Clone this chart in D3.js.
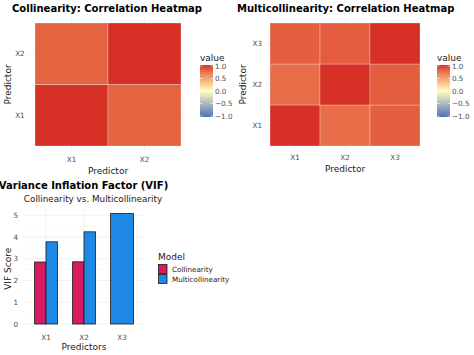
<!DOCTYPE html>
<html><head><meta charset="utf-8">
<script src="https://cdn.jsdelivr.net/npm/d3@7"></script>
<style>
body{margin:0;background:#fff;}
svg{display:block;font-family:"DejaVu Sans",sans-serif;}
</style></head>
<body>
<svg id="c" width="474" height="355"></svg>
<script>
// ---- data ----
const colPredictors = ["X1","X2"];
const colMatrix = [[1.0,0.80],[0.80,1.0]];
const multiPredictors = ["X1","X2","X3"];
const multiMatrix = [[1.0,0.75,0.82],[0.75,1.0,0.83],[0.82,0.83,1.0]];
const legendTicks = [1.0,0.5,0.0,-0.5,-1.0];
const vifPredictors = ["X1","X2","X3"];
const vifModels = ["Collinearity","Multicollinearity"];
const vifCollinearity = [2.85,2.86,null];
const vifMulticollinearity = [3.78,4.24,5.08];
const vifTicks = [0,1,2,3,4,5];

const svg = d3.select("#c");
const fill = d3.scaleLinear().domain([-1,0,1]).range(["#4575b4","#ffffbf","#d73027"]).interpolate(d3.interpolateLab);
const modelColor = d3.scaleOrdinal().domain(vifModels).range(["#d81b60","#1e88e5"]);
const tickCol = "#4d4d4d", gridCol = "#ebebeb";

let gid=0;
function heatmap(o){
  const g = svg.append("g");
  const n = o.preds.length;
  const tw = (o.x1-o.x0)/n, th=(o.y1-o.y0)/n;
  const ext = 0.1;
  const x = d3.scaleBand().domain(o.preds).range([o.x0,o.x1]);
  const y = d3.scaleBand().domain(o.preds.slice().reverse()).range([o.y0,o.y1]);
  const px0=o.x0-ext*tw, px1=o.x1+ext*tw, py0=o.y0-ext*th, py1=o.y1+ext*th;
  o.preds.forEach(p=>{
    g.append("line").attr("x1",x(p)+tw/2).attr("x2",x(p)+tw/2).attr("y1",py0).attr("y2",py1).attr("stroke",gridCol).attr("stroke-width",0.6);
    g.append("line").attr("y1",y(p)+th/2).attr("y2",y(p)+th/2).attr("x1",px0).attr("x2",px1).attr("stroke",gridCol).attr("stroke-width",0.6);
  });
  const cells=[];
  o.preds.forEach((a,i)=>o.preds.forEach((b,j)=>cells.push({a,b,v:o.m[i][j]})));
  g.selectAll("rect.t").data(cells).join("rect")
    .attr("x",d=>x(d.a)).attr("y",d=>y(d.b)).attr("width",tw).attr("height",th)
    .attr("fill",d=>fill(d.v)).attr("stroke","#ffffff").attr("stroke-opacity",0.35).attr("stroke-width",0.8);
  o.preds.forEach(p=>{
    g.append("text").attr("x",x(p)+tw/2).attr("y",o.y1+ext*th+10).attr("text-anchor","middle").attr("font-size",7.2).attr("fill",tickCol).text(p);
    g.append("text").attr("x",px0-3).attr("y",y(p)+th/2+2.5).attr("text-anchor","end").attr("font-size",7.2).attr("fill",tickCol).text(p);
  });
  g.append("text").attr("x",(px0+px1)/2).attr("y",o.y1+ext*th+22).attr("text-anchor","middle").attr("font-size",9).attr("fill","#1a1a1a").text("Predictor");
  g.append("text").attr("transform",`translate(${o.ylx},${(py0+py1)/2}) rotate(-90)`).attr("text-anchor","middle").attr("font-size",9).attr("fill","#1a1a1a").text("Predictor");
  g.append("text").attr("x",o.tx).attr("y",12).attr("font-size",10).attr("font-weight","bold").attr("fill","#000").text(o.title);
  const id="grad"+(gid++);
  const lg = svg.append("defs").append("linearGradient").attr("id",id).attr("x1",0).attr("y1",1).attr("x2",0).attr("y2",0);
  d3.range(0,1.0001,0.05).forEach(t=>lg.append("stop").attr("offset",t).attr("stop-color",fill(-1+2*t)));
  const ly = d3.scaleLinear().domain([-1,1]).range([116,66]);
  g.append("text").attr("x",o.lx).attr("y",61).attr("font-size",9).attr("fill","#1a1a1a").text("value");
  g.append("rect").attr("x",o.lx).attr("y",ly(1)-1).attr("width",13).attr("height",ly(-1)-ly(1)+2).attr("fill",`url(#${id})`);
  legendTicks.forEach(t=>{
    g.append("line").attr("x1",o.lx).attr("x2",o.lx+2.5).attr("y1",ly(t)).attr("y2",ly(t)).attr("stroke","#fff").attr("stroke-width",0.6);
    g.append("line").attr("x1",o.lx+10.5).attr("x2",o.lx+13).attr("y1",ly(t)).attr("y2",ly(t)).attr("stroke","#fff").attr("stroke-width",0.6);
    g.append("text").attr("x",o.lx+15).attr("y",ly(t)+2.5).attr("font-size",7.2).attr("fill",tickCol).text(d3.format(".1f")(t));
  });
}
heatmap({preds:colPredictors,m:colMatrix,x0:35,x1:181,y0:23,y1:146,ylx:11,tx:12,title:"Collinearity: Correlation Heatmap",lx:200});
heatmap({preds:multiPredictors,m:multiMatrix,x0:270,x1:420,y0:23,y1:146,ylx:246,tx:237,title:"Multicollinearity: Correlation Heatmap",lx:437});

// ---- VIF bar chart ----
{
  const g = svg.append("g");
  const x = d3.scalePoint().domain(vifPredictors).range([23.2,144.8]).padding(0.6);
  const step = x.step();
  const y = d3.scaleLinear().domain([0,5]).range([324,215.3]);
  const py0 = y(5.08)-5.5, py1 = y(0)+5.5;
  d3.range(0.5,5.01,1).forEach(v=>g.append("line").attr("x1",23.2).attr("x2",144.8).attr("y1",y(v)).attr("y2",y(v)).attr("stroke","#f3f3f3").attr("stroke-width",0.5));
  vifTicks.forEach(v=>g.append("line").attr("x1",23.2).attr("x2",144.8).attr("y1",y(v)).attr("y2",y(v)).attr("stroke",gridCol).attr("stroke-width",0.7));
  vifPredictors.forEach(p=>g.append("line").attr("x1",x(p)).attr("x2",x(p)).attr("y1",py0).attr("y2",py1).attr("stroke",gridCol).attr("stroke-width",0.7));
  const bw = 0.6*step;
  const bars=[];
  vifPredictors.forEach((p,i)=>{
    const present = vifModels.map((m,k)=>({m,v:[vifCollinearity,vifMulticollinearity][k][i]})).filter(d=>d.v!=null);
    const w = bw/present.length;
    present.forEach((d,k)=>bars.push({p,m:d.m,v:d.v,x:x(p)-bw/2+k*w,w}));
  });
  g.selectAll("rect.b").data(bars).join("rect")
    .attr("x",d=>d.x).attr("width",d=>d.w).attr("y",d=>y(d.v)).attr("height",d=>y(0)-y(d.v))
    .attr("fill",d=>modelColor(d.m)).attr("stroke","#1a1a1a").attr("stroke-width",0.8);
  vifTicks.forEach(v=>g.append("text").attr("x",18).attr("y",y(v)+2.5).attr("text-anchor","end").attr("font-size",7.2).attr("fill",tickCol).text(v));
  vifPredictors.forEach(p=>g.append("text").attr("x",x(p)).attr("y",340).attr("text-anchor","middle").attr("font-size",7.2).attr("fill",tickCol).text(p));
  g.append("text").attr("x",84).attr("y",350).attr("text-anchor","middle").attr("font-size",9).attr("fill","#1a1a1a").text("Predictors");
  g.append("text").attr("transform",`translate(11,${(py0+py1)/2}) rotate(-90)`).attr("text-anchor","middle").attr("font-size",9).attr("fill","#1a1a1a").text("VIF Score");
  g.append("text").attr("x",83.5).attr("y",189).attr("text-anchor","middle").attr("font-size",10).attr("font-weight","bold").attr("fill","#000").text("Variance Inflation Factor (VIF)");
  g.append("text").attr("x",93).attr("y",202).attr("text-anchor","middle").attr("font-size",8.8).attr("fill","#1a1a1a").text("Collinearity vs. Multicollinearity");
  g.append("text").attr("x",158).attr("y",260).attr("font-size",9).attr("fill","#1a1a1a").text("Model");
  vifModels.forEach((m,i)=>{
    g.append("rect").attr("x",158.5).attr("y",264.5+i*10).attr("width",8.5).attr("height",9).attr("fill",modelColor(m)).attr("stroke","#1a1a1a").attr("stroke-width",0.8);
    g.append("text").attr("x",172).attr("y",271.5+i*10).attr("font-size",7.2).attr("fill","#1a1a1a").text(m);
  });
}
</script>
</body></html>
